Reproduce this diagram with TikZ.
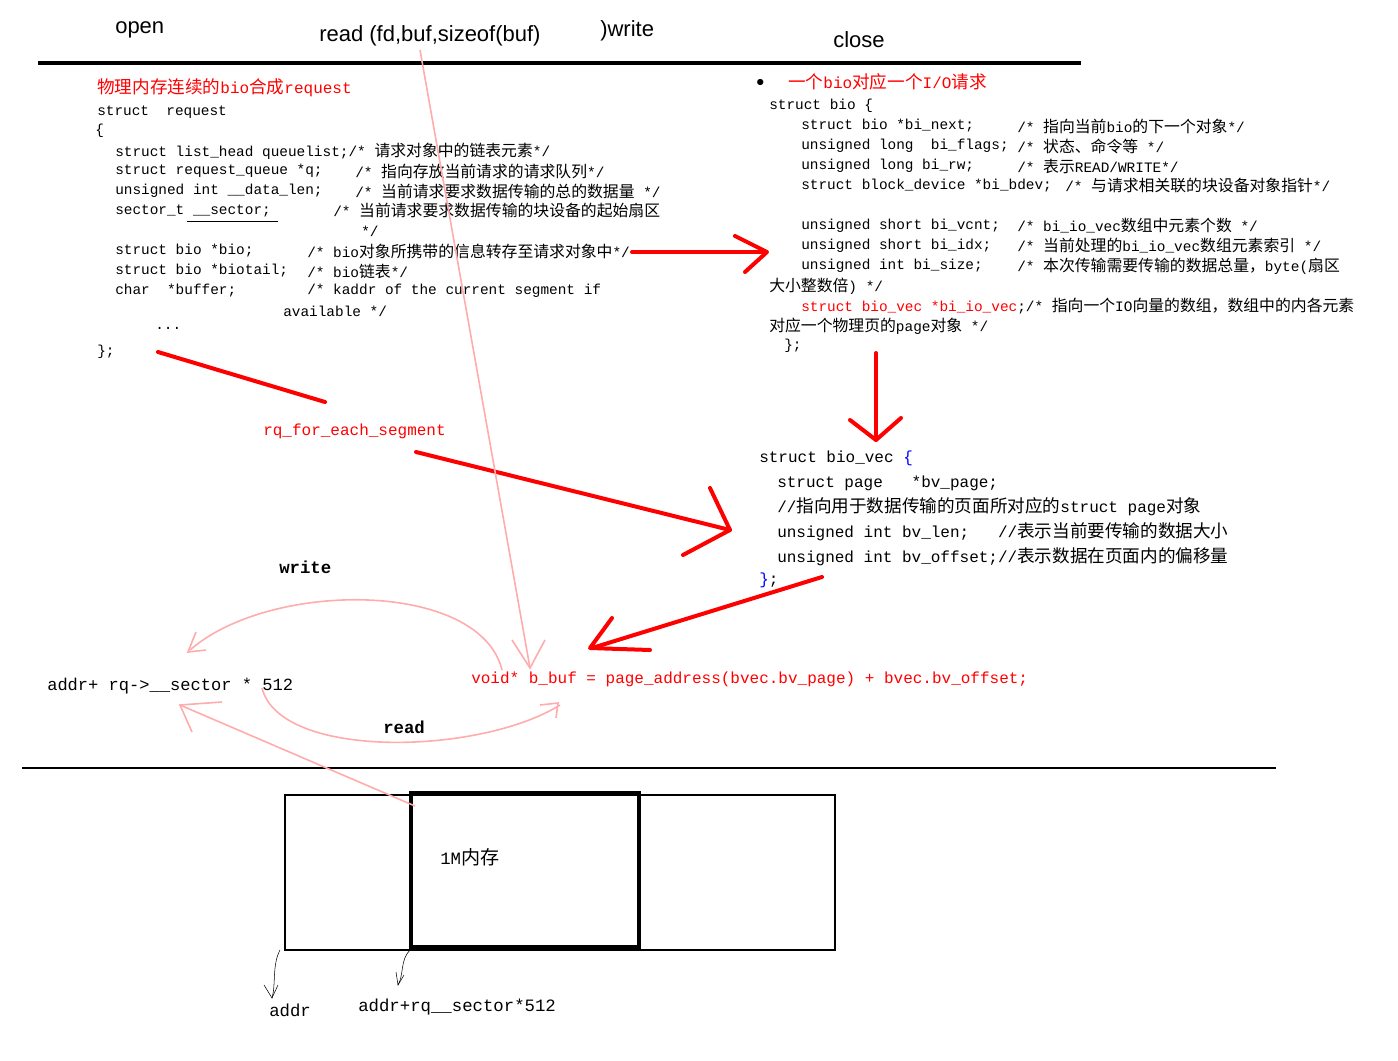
\documentclass[tikz,border=0pt]{standalone}
\usepackage{fontspec}
\setmainfont{Liberation Mono}
\newfontfamily\cjk[Scale=1.1]{Noto Sans CJK SC}
\newfontfamily\sans{Liberation Sans}
\newcommand{\C}[1]{{\cjk #1}}
\begin{document}
\begin{tikzpicture}[x=0.75pt,y=-0.75pt,
  code/.style={anchor=west,inner sep=0,font=\fontsize{10.8}{12}\selectfont},
  big/.style={anchor=west,inner sep=0,font=\fontsize{12}{14}\selectfont},
  hd/.style={anchor=west,inner sep=0,font=\sans\fontsize{16.5}{18}\selectfont},
  redarr/.style={red,line width=3pt,line cap=round,line join=round},
  pink/.style={pink!90!red,line width=1.2pt}]
\useasboundingbox (0,0) rectangle (1398,1060);
% headers
\node[hd] (open) at (115,30) {open};
\node[hd] (read) at (319,36) {read (fd,buf,sizeof(buf)};
\node[hd] (write) at (600,31) {)write};
\node[hd] (close) at (833,40) {close};
\draw[line width=3pt] (38,63) -- (1081,63);
\draw[line width=1.6pt] (22,768) -- (1276,768);
% left struct
\node[code,red,font=\fontsize{12}{14}\selectfont] (t1) at (97,88) {\C{物理内存连续的}bio\C{合成}request};
\node[code] at (97,112) {struct\ \ request};
\node[code] at (95,131) {\{};
\node[code] at (115,151) {struct list\_head queuelist;/* \C{请求对象中的链表元素}*/};
\node[code] at (115,171) {struct request\_queue *q;};
\node[code] at (355,171) {/* \C{指向存放当前请求的请求队列}*/};
\node[code] at (115,191) {unsigned int \_\_data\_len;};
\node[code] at (355,191) {/* \C{当前请求要求数据传输的总的数据量} */};
\node[code] at (115,211) {sector\_t \_\_sector;};
\draw (187,221) -- (278,221);
\node[code] at (333,211) {/* \C{当前请求要求数据传输的块设备的起始扇区}};
\node[code] at (361,231) {*/};
\node[code] at (115,251) {struct bio *bio;};
\node[code] at (307,251) {/* bio\C{对象所携带的信息转存至请求对象中}*/};
\node[code] at (115,271) {struct bio *biotail;};
\node[code] at (307,271) {/* bio\C{链表}*/};
\node[code] at (115,291) {char\ \ *buffer;};
\node[code] at (307,291) {/* kaddr of the current segment if};
\node[code] at (283,311) {available */};
\node[code] at (155,328) {...};
\node[code] at (97,352) {\};};
% right struct
\node[code,font=\fontsize{12}{12}\selectfont] at (756,83) {$\bullet$};
\node[code,red,font=\fontsize{12}{14}\selectfont] (t2) at (788,82) {\C{一个}bio\C{对应一个}I/O\C{请求}};
\node[code] at (769,106) {struct bio \{};
\node[code] at (801,126) {struct bio *bi\_next;};
\node[code] at (1017,126) {/* \C{指向当前}bio\C{的下一个对象}*/};
\node[code] at (801,146) {unsigned long\ \ bi\_flags;};
\node[code] at (1017,146) {/* \C{状态、命令等} */};
\node[code] at (801,166) {unsigned long bi\_rw;};
\node[code] at (1017,166) {/* \C{表示}READ/WRITE*/};
\node[code] at (801,186) {struct block\_device *bi\_bdev;};
\node[code] at (1065,186) {/* \C{与请求相关联的块设备对象指针}*/};
\node[code] at (801,226) {unsigned short bi\_vcnt;};
\node[code] at (1017,226) {/* bi\_io\_vec\C{数组中元素个数} */};
\node[code] at (801,246) {unsigned short bi\_idx;};
\node[code] at (1017,246) {/* \C{当前处理的}bi\_io\_vec\C{数组元素索引} */};
\node[code] at (801,266) {unsigned int bi\_size;};
\node[code] at (1017,266) {/* \C{本次传输需要传输的数据总量，}byte(\C{扇区}};
\node[code] at (769,286) {\C{大小整数倍}) */};
\node[code] at (801,306) {\textcolor{red}{struct bio\_vec *bi\_io\_vec};/* \C{指向一个}IO\C{向量的数组，数组中的内各元素}};
\node[code] at (769,326) {\C{对应一个物理页的}page\C{对象} */};
\node[code] at (784,346) {\};};
% bio_vec
\node[big] (bv) at (759,458) {struct bio\_vec \textcolor{blue}{\{}};
\node[big] at (777,483) {struct page\ \ \ *bv\_page;};
\node[big] at (777,507) {//\C{指向用于数据传输的页面所对应的}struct page\C{对象}};
\node[big] at (777,532) {unsigned int bv\_len;\ \ \ //\C{表示当前要传输的数据大小}};
\node[big] at (777,557) {unsigned int bv\_offset;//\C{表示数据在页面内的偏移量}};
\node[big] at (759,580) {\textcolor{blue}{\}};};
% middle labels
\node[big,red] (rq) at (263,431) {rq\_for\_each\_segment};
\node[big,font=\bfseries\fontsize{13}{14}\selectfont] (wr) at (279,567) {write};
\node[big,font=\bfseries\fontsize{13}{14}\selectfont] (rd) at (383,727) {read};
\node[big,font=\fontsize{12.8}{14}\selectfont] (addr1) at (47,686) {addr+ rq->\_\_sector * 512};
\node[big,red] (vb) at (471,679) {void* b\_buf = page\_address(bvec.bv\_page) + bvec.bv\_offset;};
% memory boxes
\draw[line width=1.5pt] (285,795) rectangle (835,950);
\draw[line width=3pt] (411,793) rectangle (639,947);
\node[big,font=\fontsize{13}{14}\selectfont] (mem) at (440,857) {1M\C{内存}};
\node[big,font=\fontsize{13}{14}\selectfont] (a0) at (269,1010) {addr};
\node[big,font=\fontsize{13}{14}\selectfont] (a1) at (358,1007) {addr+rq\_\_sector*512};
\draw (280,950) .. controls (272,965) and (276,985) .. (272,998);
\draw (264,985) -- (272,998) -- (278,985);
\draw (410,950) .. controls (400,960) and (404,975) .. (398,985);
\draw (396,972) -- (398,985) -- (404,975);
% red arrows
\draw[redarr] (632,252) -- (765,252);
\draw[redarr] (735,236) -- (767,252) -- (745,272);
\draw[redarr] (158,352) -- (325,402);
\draw[redarr] (416,452) -- (730,530);
\draw[redarr] (710,488) -- (730,530) -- (683,555);
\draw[redarr] (876,353) -- (876,440);
\draw[redarr] (850,420) -- (876,440) -- (901,418);
\draw[redarr] (822,577) -- (592,648);
\draw[redarr] (612,618) -- (590,648) -- (650,650);
% pink
\draw[pink] (420,50) -- (530,668);
\draw[pink] (512,640) -- (530,668) -- (545,640);
\draw[pink] (502,670) .. controls (480,580) and (270,580) .. (190,650);
\draw[pink] (196,632) -- (188,652) -- (206,650);
\draw[pink] (262,688) .. controls (280,760) and (480,755) .. (560,705);
\draw[pink] (540,705) -- (558,703) -- (556,718);
\draw[pink] (415,806) -- (180,705);
\draw[pink] (222,702) -- (180,705) -- (192,732);
\end{tikzpicture}
\end{document}
